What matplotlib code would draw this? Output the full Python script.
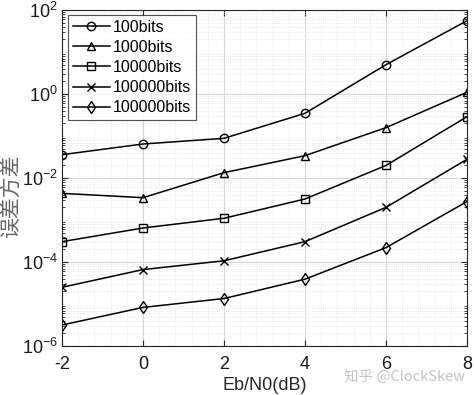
import matplotlib
matplotlib.use("Agg")
import matplotlib.pyplot as plt
from matplotlib.ticker import LogLocator, NullFormatter, AutoMinorLocator

snr_db = [-2, 0, 2, 4, 6, 8]
labels = ["100bits", "1000bits", "10000bits", "100000bits", "100000bits"]
markers = ["o", "^", "s", "x", "d"]
mse_100 = [0.0359, 0.0645, 0.088, 0.347, 4.99, 55.6]
mse_1000 = [0.00431, 0.0034, 0.0134, 0.034, 0.158, 1.1]
mse_10000 = [3.05e-4, 6.45e-4, 1.1e-3, 3.16e-3, 0.0199, 0.288]
mse_100000a = [2.5e-5, 6.6e-5, 1.07e-4, 3.05e-4, 2.0e-3, 0.0279]
mse_100000b = [3.16e-6, 8.3e-6, 1.35e-5, 3.9e-5, 2.2e-4, 2.75e-3]
series = [mse_100, mse_1000, mse_10000, mse_100000a, mse_100000b]
yticks = [1e-6, 1e-4, 1e-2, 1e0, 1e2]
xticks = [-2, 0, 2, 4, 6, 8]

plt.rcParams['font.family'] = ['Liberation Sans', 'DejaVu Sans']
plt.rcParams['axes.unicode_minus'] = False
fig = plt.figure(figsize=(4.74, 3.95), dpi=100)
ax = fig.add_axes([62/474, 1-346/395, (467-62)/474, (346-10)/395])

for y, lab, m in zip(series, labels, markers):
    ms = 6 if m != "d" else 6.5
    ax.plot(snr_db, y, color="black", lw=1.1, marker=m, markersize=ms,
            markerfacecolor="none", markeredgecolor="black", markeredgewidth=1.0, label=lab)

ax.set_yscale("log")
ax.set_xlim(-2, 8)
ax.set_ylim(1e-6, 1e2)
ax.set_yticks(yticks)
ax.yaxis.set_minor_locator(LogLocator(base=10, subs=range(2, 10), numticks=20))
ax.yaxis.set_minor_formatter(NullFormatter())
ax.set_xticks(xticks)
ax.xaxis.set_minor_locator(AutoMinorLocator(5))

ax.grid(True, which="major", color="#d6d6d6", lw=0.8, ls="-")
ax.grid(True, which="minor", color="#e6e6e6", lw=0.6, ls=":")
ax.set_axisbelow(True)

axcol = "#262626"
for s in ax.spines.values():
    s.set_color(axcol)
    s.set_linewidth(0.8)
ax.tick_params(which="both", direction="in", top=True, right=True, colors=axcol,
               labelcolor="#1a1a1a", labelsize=13)
ax.tick_params(which="major", length=4)
ax.tick_params(which="minor", length=2)
ax.tick_params(axis="x", which="minor", length=0)
ax.tick_params(axis="x", pad=7)
ax.tick_params(axis="y", pad=3)

ax.set_xlabel("Eb/N0(dB)", fontsize=13, color="#262626", labelpad=3)
ax.set_ylabel("误差方差", fontsize=15, color="#666666",
              family=["Noto Sans CJK SC", "DejaVu Sans"], labelpad=0)
ax.yaxis.set_label_coords(-0.099, 0.446)

leg = ax.legend(loc="upper left", bbox_to_anchor=(0.015, 0.985), fontsize=11.5,
                frameon=True, fancybox=False, edgecolor="#262626", borderpad=0.3,
                labelspacing=0.32, handlelength=2.3, handletextpad=0.2, borderaxespad=0)
leg.get_frame().set_linewidth(0.8)

fig.text(0.725, 0.035, "知乎 @ClockSkew", fontsize=10.5, color="#c4c4c4",
         family=["Noto Sans CJK SC", "DejaVu Sans"])

fig.savefig("out.png", dpi=100)
